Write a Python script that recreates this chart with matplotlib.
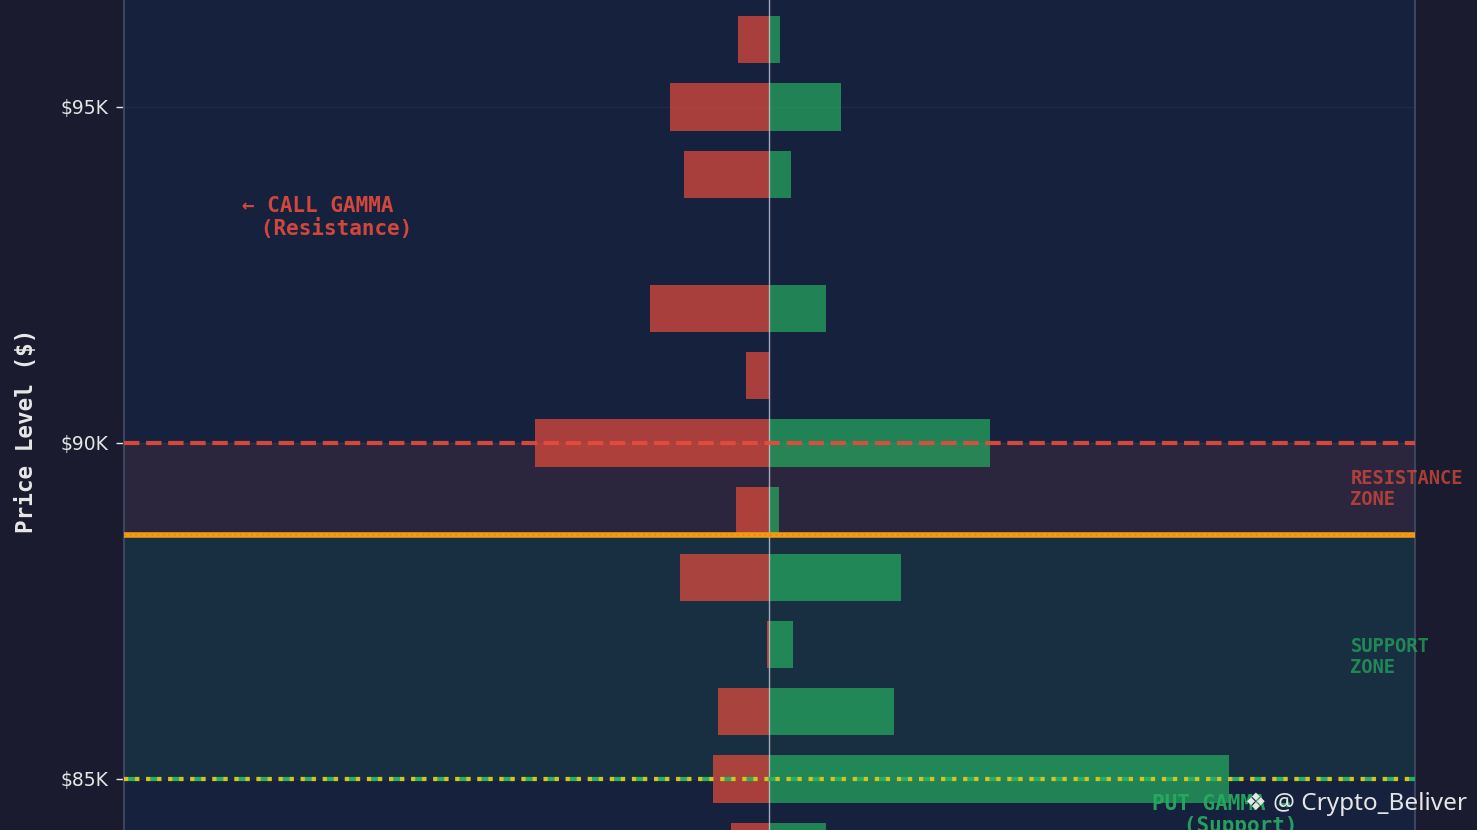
import matplotlib
matplotlib.use("Agg")
import matplotlib.pyplot as plt
from matplotlib.ticker import FuncFormatter

# ---- data ----
strikes = [96000, 95000, 94000, 92000, 91000, 90000, 89000, 88000, 87000, 86000, 85000, 84000]
call_gamma = [-0.49, -1.54, -1.32, -1.85, -0.36, -3.63, -0.52, -1.38, -0.04, -0.80, -0.87, -0.59]
put_gamma = [0.16, 1.11, 0.34, 0.87, 0.0, 3.42, 0.14, 2.03, 0.37, 1.93, 7.12, 0.88]
current_price = 88630
resistance_level = 90000
support_level = 85000
y_ticks = [85000, 90000, 95000]

FIG_BG = "#1a1b2e"
AX_BG = "#16213e"
RED = "#e74c3c"
GREEN = "#27ae60"
ORANGE = "#f39c12"
YELLOW = "#f1c40f"

fig = plt.figure(figsize=(14.77, 8.30), dpi=100, facecolor=FIG_BG)
ax = fig.add_axes([124 / 1477, 0.0, (1415 - 124) / 1477, 1.0])
ax.set_facecolor(AX_BG)

ax.set_xlim(-10, 10)
ax.set_ylim(84241, 96592)

# zones
ax.axhspan(current_price, resistance_level, color=RED, alpha=0.1, lw=0, zorder=0)
ax.axhspan(support_level, current_price, color=GREEN, alpha=0.1, lw=0, zorder=0)

# bars
ax.barh(strikes, call_gamma, height=700, color=RED, alpha=0.7, zorder=2)
ax.barh(strikes, put_gamma, height=700, color=GREEN, alpha=0.7, zorder=2)

# zero line
ax.axvline(0, color="#c8ccd8", lw=1.0, alpha=0.8, zorder=3)

# levels
ax.axhline(resistance_level, color=RED, lw=3, ls="--", alpha=0.9, zorder=4)
ax.axhline(current_price, color=ORANGE, lw=4, zorder=4)
ax.axhline(current_price, color="#d68910", lw=1.5, ls=":", alpha=0.6, zorder=4)
ax.axhline(support_level, color=GREEN, lw=3, ls="--", zorder=4)
ax.axhline(support_level, color=YELLOW, lw=3, ls=":", alpha=0.9, zorder=4)

# grid
ax.grid(axis="y", color="white", alpha=0.05, lw=0.8)
ax.grid(axis="x", visible=False)

# annotations
mono = "DejaVu Sans Mono"
ax.text(-7, 93360, "← CALL GAMMA\n   (Resistance)", ha="center", va="center",
        color=RED, fontsize=15, fontweight="bold", family=mono, alpha=0.9,
        linespacing=1.12, zorder=5)
ax.text(7, 84460, "PUT GAMMA →\n   (Support)", ha="center", va="center",
        color=GREEN, fontsize=15, fontweight="bold", family=mono, alpha=0.9,
        linespacing=1.12, zorder=5, clip_on=False)
ax.text(9.0, (resistance_level + current_price) / 2, "RESISTANCE\nZONE", ha="left", va="center",
        color=RED, fontsize=13.5, fontweight="bold", family=mono, alpha=0.7,
        linespacing=1.17, zorder=5, clip_on=False)
ax.text(9.0, (support_level + current_price) / 2, "SUPPORT\nZONE", ha="left", va="center",
        color=GREEN, fontsize=13.5, fontweight="bold", family=mono, alpha=0.7,
        linespacing=1.17, zorder=5, clip_on=False)

# axes styling
ax.set_yticks(y_ticks)
ax.yaxis.set_major_formatter(FuncFormatter(lambda v, p: f"${v/1000:.0f}K"))
ax.tick_params(axis="y", colors="#e6e6e6", labelsize=13.5, length=6, width=1, pad=5)
ax.tick_params(axis="x", bottom=False, labelbottom=False)
ax.set_ylabel("Price Level ($)", color="#e8e8e8", fontsize=16.3, fontweight="bold",
              family=mono)
ax.yaxis.set_label_coords((38 - 124) / 1291, 1 - 431 / 830)
for side in ["top", "bottom"]:
    ax.spines[side].set_visible(False)
for side in ["left", "right"]:
    ax.spines[side].set_color("#3d4460")
    ax.spines[side].set_linewidth(1.5)

# watermark
fig.text(1245 / 1477, 1 - 804 / 830, "❖ @ Crypto_Beliver", ha="left", va="center",
         color="#e6e6e6", fontsize=17.5, family=["Noto Sans", "DejaVu Sans"], zorder=10)

fig.savefig("out.png", dpi=100, facecolor=FIG_BG)
